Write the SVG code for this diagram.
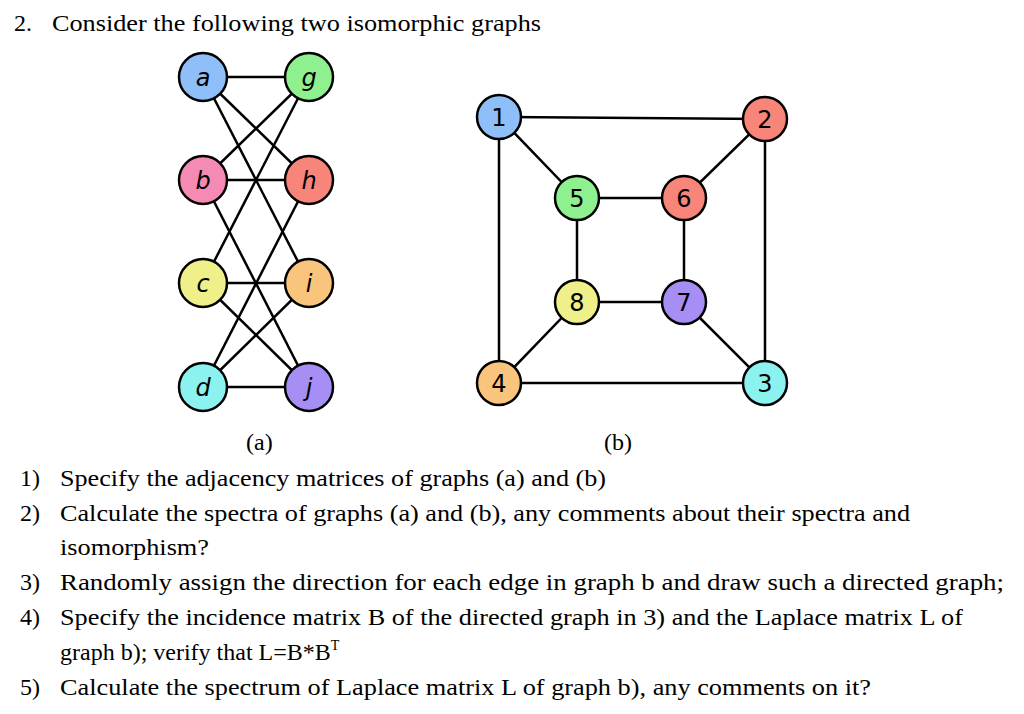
<svg xmlns="http://www.w3.org/2000/svg" width="1024" height="714" viewBox="0 0 1024 714">
<style>
.t{font-family:"Liberation Serif",serif;font-size:24px;fill:#000}
.n circle{stroke:#000;stroke-width:2.5}
.n text{font-family:"DejaVu Sans",sans-serif;font-size:24px;text-anchor:middle;fill:#000}
.ni text{font-style:oblique}
#edges line{stroke:#000;stroke-width:2.5}
</style>
<rect width="1024" height="714" fill="#fff"/>
<g id="edges">
<line x1="203" y1="77" x2="309" y2="77"/><line x1="203" y1="77" x2="309" y2="180"/><line x1="203" y1="77" x2="309" y2="283"/>
<line x1="203" y1="180" x2="309" y2="77"/><line x1="203" y1="180" x2="309" y2="180"/><line x1="203" y1="180" x2="309" y2="387"/>
<line x1="203" y1="283" x2="309" y2="77"/><line x1="203" y1="283" x2="309" y2="283"/><line x1="203" y1="283" x2="309" y2="387"/>
<line x1="203" y1="387" x2="309" y2="180"/><line x1="203" y1="387" x2="309" y2="283"/><line x1="203" y1="387" x2="309" y2="387"/>
<line x1="499" y1="117" x2="765" y2="119"/><line x1="499" y1="117" x2="499" y2="383"/><line x1="765" y1="119" x2="765" y2="383"/><line x1="499" y1="383" x2="765" y2="383"/>
<line x1="499" y1="117" x2="577" y2="198"/><line x1="765" y1="119" x2="684" y2="198"/><line x1="499" y1="383" x2="577" y2="302"/><line x1="765" y1="383" x2="684" y2="302"/>
<line x1="577" y1="198" x2="684" y2="198"/><line x1="577" y1="198" x2="577" y2="302"/><line x1="684" y1="198" x2="684" y2="302"/><line x1="577" y1="302" x2="684" y2="302"/>
</g>
<g id="a" class="n ni"><circle cx="203" cy="77" r="24" fill="#8fbff8"/><text x="203" y="86">a</text></g>
<g id="g" class="n ni"><circle cx="309" cy="77" r="24" fill="#8ef08e"/><text x="309" y="86">g</text></g>
<g id="b" class="n ni"><circle cx="203" cy="180" r="24" fill="#f58ab5"/><text x="203" y="189">b</text></g>
<g id="h" class="n ni"><circle cx="309" cy="180" r="24" fill="#f7857a"/><text x="309" y="189">h</text></g>
<g id="c" class="n ni"><circle cx="203" cy="283" r="24" fill="#eff08a"/><text x="203" y="292">c</text></g>
<g id="i" class="n ni"><circle cx="309" cy="283" r="24" fill="#f9c47c"/><text x="309" y="292">i</text></g>
<g id="d" class="n ni"><circle cx="203" cy="387" r="24" fill="#8cf2f0"/><text x="203" y="396">d</text></g>
<g id="j" class="n ni"><circle cx="309" cy="387" r="24" fill="#a78ef5"/><text x="309" y="396">j</text></g>
<g id="n1" class="n"><circle cx="499" cy="117" r="22" fill="#8fbff8"/><text x="499" y="126">1</text></g>
<g id="n2" class="n"><circle cx="765" cy="119" r="22" fill="#f7857a"/><text x="765" y="128">2</text></g>
<g id="n5" class="n"><circle cx="577" cy="198" r="22" fill="#8ef08e"/><text x="577" y="207">5</text></g>
<g id="n6" class="n"><circle cx="684" cy="198" r="22" fill="#f7857a"/><text x="684" y="207">6</text></g>
<g id="n8" class="n"><circle cx="577" cy="302" r="22" fill="#eff08a"/><text x="577" y="311">8</text></g>
<g id="n7" class="n"><circle cx="684" cy="302" r="22" fill="#a78ef5"/><text x="684" y="311">7</text></g>
<g id="n4" class="n"><circle cx="499" cy="383" r="22" fill="#f9c47c"/><text x="499" y="392">4</text></g>
<g id="n3" class="n"><circle cx="765" cy="383" r="22" fill="#8cf2f0"/><text x="765" y="392">3</text></g>
<text class="t" x="14" y="31">2.</text>
<text class="t" x="52" y="31" textLength="489" lengthAdjust="spacingAndGlyphs">Consider the following two isomorphic graphs</text>
<text class="t" x="246" y="450">(a)</text>
<text class="t" x="604" y="450">(b)</text>
<text class="t" x="20" y="486">1)</text>
<text class="t" x="60" y="486" textLength="546" lengthAdjust="spacingAndGlyphs">Specify the adjacency matrices of graphs (a) and (b)</text>
<text class="t" x="20" y="521">2)</text>
<text class="t" x="60" y="521" textLength="850" lengthAdjust="spacingAndGlyphs">Calculate the spectra of graphs (a) and (b), any comments about their spectra and</text>
<text class="t" x="60" y="555" textLength="149" lengthAdjust="spacingAndGlyphs">isomorphism?</text>
<text class="t" x="20" y="590">3)</text>
<text class="t" x="60" y="590" textLength="944" lengthAdjust="spacingAndGlyphs">Randomly assign the direction for each edge in graph b and draw such a directed graph;</text>
<text class="t" x="20" y="625">4)</text>
<text class="t" x="60" y="625" textLength="903" lengthAdjust="spacingAndGlyphs">Specify the incidence matrix B of the directed graph in 3) and the Laplace matrix L of</text>
<text class="t" x="60" y="660">graph b); verify that L=B*B<tspan font-size="14" dy="-10">T</tspan></text>
<text class="t" x="20" y="695">5)</text>
<text class="t" x="60" y="695" textLength="811" lengthAdjust="spacingAndGlyphs">Calculate the spectrum of Laplace matrix L of graph b), any comments on it?</text>
</svg>
